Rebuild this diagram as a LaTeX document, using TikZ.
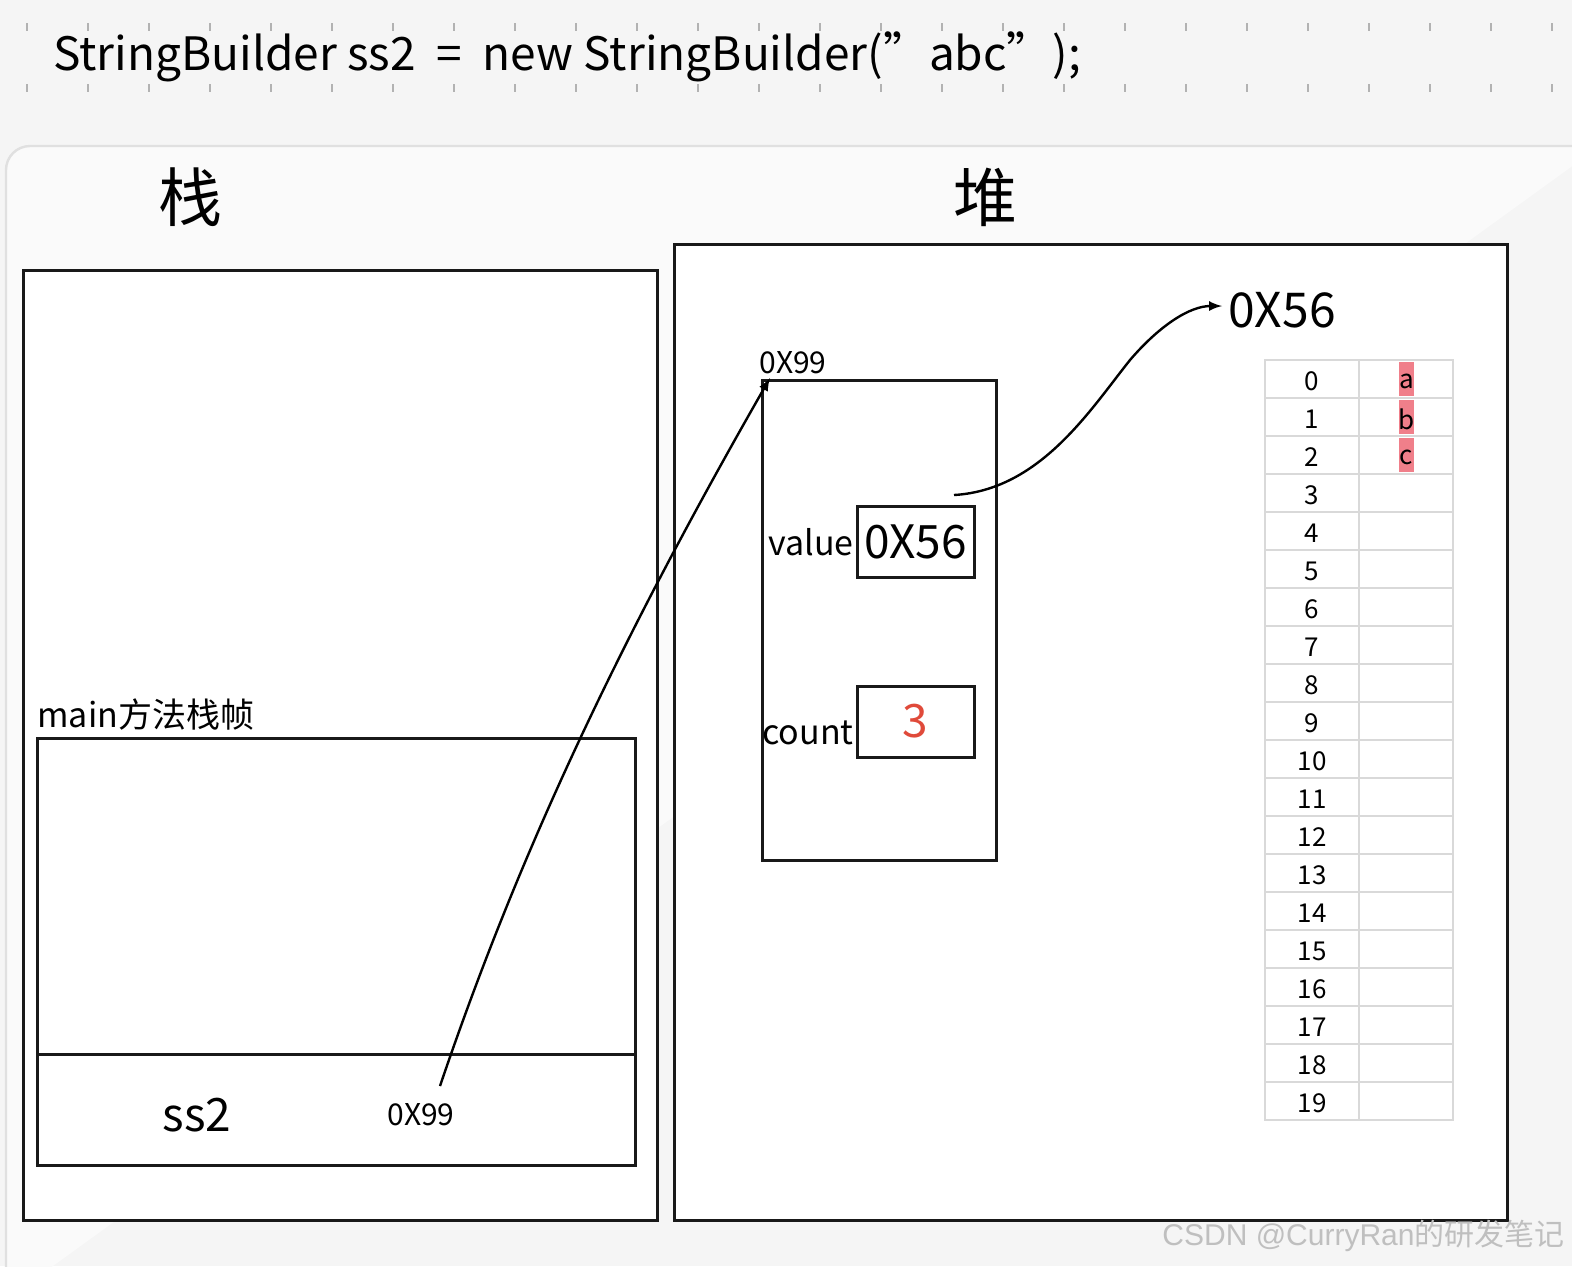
\documentclass[tikz,border=0pt]{standalone}
\usepackage{fontspec}
\setmainfont{Noto Sans CJK SC}
\newfontfamily\wm{Liberation Sans}
\definecolor{redtxt}{RGB}{224,74,58}
\definecolor{pinkhl}{RGB}{240,127,138}
\begin{document}
\begin{tikzpicture}[x=0.5pt,y=-0.5pt,
  box/.style={draw=black!90,line width=1.5pt},
  cell/.style={draw=black!15,line width=0.6pt},
  px/.style={font=\fontsize{#1}{#1}\selectfont,inner sep=0pt},
  arr/.style={-latex,line width=1.2pt}]
\useasboundingbox (0,0) rectangle (1572,1266);
\fill[black!4] (0,0) rectangle (1572,1266);
\fill[black!2!white,draw=black!12,line width=1.2pt,rounded corners=12pt] (6,1300) -- (6,146) -- (1600,146);
\foreach \i in {0,...,25}{
  \draw[black!30,line width=0.6pt] (27+61*\i,23) -- (27+61*\i,31);
  \draw[black!30,line width=0.6pt] (27+61*\i,84) -- (27+61*\i,92);}
\node[px=23pt,anchor=west] (code) at (53,57) {StringBuilder ss2\ \ =\ \ new StringBuilder("abc");};
\node[px=32pt] (zhan) at (190,197) {栈};
\node[px=32pt] (dui) at (985,197) {堆};
\draw[box,fill=white] (23,270) rectangle (657,1220);
\node[px=17pt,anchor=south west] (mainl) at (37,731) {main方法栈帧};
\draw[box] (37,738) rectangle (635,1165);
\draw[box] (37,1054) -- (635,1054);
\node[px=23pt] (ss2) at (197,1115) {ss2};
\node[px=15pt] (ref) at (421,1115) {0X99};
\draw[box,fill=white] (674,244) rectangle (1507,1220);
\node[box,minimum width=117pt,minimum height=240pt,inner sep=0pt] (obj) at (879,620) {};
\node[px=15pt] (objaddr) at (793,363) {0X99};
\node[px=17pt] (vlab) at (811,542) {value};
\node[box,px=23pt,minimum width=58.5pt,minimum height=35.5pt] (vbox) at (915.5,541.5) {0X56};
\node[px=17pt] (clab) at (808,733) {count};
\node[box,px=23pt,minimum width=58.5pt,minimum height=35.5pt,text=redtxt] (cbox) at (915.5,721.5) {3};
\node[px=24pt] (arrlab) at (1282,310) {0X56};
\coordinate (arrtop) at (1222,306);
\coordinate (ss2src) at (440,1086);
\coordinate (objtop) at (770,378);
\coordinate (vsrc) at (954,495);
\draw[arr] (ss2src) .. controls (520,850) and (620,640) .. (objtop);
\draw[arr] (vsrc) .. controls (1040,490) and (1090,410) .. (1130,360) .. controls (1160,325) and (1190,306) .. (arrtop);
\foreach \r in {0,...,19}{
  \draw[cell] (1265,360+38*\r) rectangle (1359,398+38*\r);
  \draw[cell] (1359,360+38*\r) rectangle (1453,398+38*\r);
  \node[px=13pt] (i\r) at (1312,381+38*\r) {\r};}
\foreach \r/\c in {0/a,1/b,2/c}{
  \fill[pinkhl] (1399,362+38*\r) rectangle (1414,396+38*\r);
  \node[px=13pt] (c\r) at (1406.5,381+38*\r) {\c};}
\node[anchor=east,inner sep=0pt,text=black!25,font=\wm\fontsize{15pt}{15pt}\selectfont] (wmk) at (1565,1236) {CSDN @CurryRan{\fontspec{Noto Sans CJK SC}的研发笔记}};
\end{tikzpicture}
\end{document}
